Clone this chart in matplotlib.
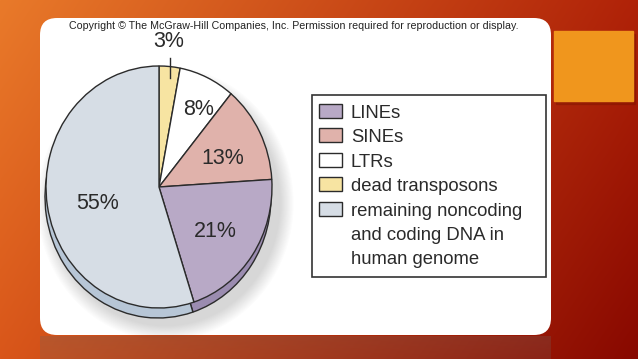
import numpy as np
import matplotlib.pyplot as plt
from matplotlib.patches import FancyBboxPatch, Rectangle

plt.rcParams['font.family'] = ['Liberation Sans', 'DejaVu Sans']

# Data (legend order)
categories = ['LINEs', 'SINEs', 'LTRs', 'dead transposons',
              'remaining noncoding\nand coding DNA in\nhuman genome']
shares = [21, 13, 8, 3, 55]
labels = ['21%', '13%', '8%', '3%', '55%']
colors = ['#b8a9c6', '#e0b2ab', '#ffffff', '#f7e4a2', '#d6dde5']
side_colors = ['#9b8cb0', '#c89a94', '#e6e6e6', '#e0cc88', '#b7c6d6']

# order the wedges appear clockwise from 12 o'clock
pie_order = [3, 2, 1, 0, 4]
# label anchor (x centre, baseline) in pie units
label_xy = [(0.496, -0.413), (0.566, 0.190), (0.354, 0.595), (0.088, 1.157), (-0.542, -0.182)]

W, H = 638, 359
fig = plt.figure(figsize=(W / 100, H / 100), dpi=100)

# ---- background ----
bg = fig.add_axes([0, 0, 1, 1])
bg.axis('off')
tl, bl = np.array([233, 122, 42]), np.array([217, 86, 26])
tr, br = np.array([176, 34, 8]), np.array([136, 8, 0])
u = np.linspace(0, 1, W)[None, :, None]
v = np.linspace(0, 1, H)[:, None, None]
grad = (tl * (1 - u) * (1 - v) + tr * u * (1 - v) + bl * (1 - u) * v + br * u * v) / 255
bg.imshow(grad, extent=(0, W, H, 0), aspect='auto', zorder=0)

# reflection under the card
refl = np.zeros((40, 2, 4))
refl[..., :3] = [0.45, 0.38, 0.36]
refl[..., 3] = np.linspace(0.3, 0.18, 40)[:, None]
bg.imshow(refl, extent=(40, 551, 377, 336), aspect='auto', zorder=1)

# orange square
bg.add_patch(Rectangle((556, 34), 79, 70, color='#7a1400', alpha=0.35, zorder=1))
bg.add_patch(Rectangle((554, 31), 79, 70, color='#f0961d', zorder=2))

# white card
bg.add_patch(FancyBboxPatch((40, 18), 511, 317, boxstyle='round,pad=0,rounding_size=17',
                            fc='white', ec='none', zorder=2))

# soft shadow under the pie
cx, cy, rx, ry = 159, 187, 113, 121
thick = 10
gx, gy = np.meshgrid(np.arange(40, 300), np.arange(50, 340))
d = np.hypot((gx - cx - 6) / (rx + 4), (gy - cy - thick - 6) / (ry + 4))
sh = np.zeros(gx.shape + (4,))
sh[..., :3] = 0.3
sh[..., 3] = 0.22 * np.clip((1.1 - d) / 0.12, 0, 1)
bg.imshow(sh, extent=(40, 300, 340, 50), aspect='auto', zorder=2.5)

bg.set_xlim(0, W)
bg.set_ylim(H, 0)

bg.text(294, 26, 'Copyright \u00a9 The McGraw-Hill Companies, Inc. Permission required for reproduction or display.',
        fontsize=7.7, color='#222222', ha='center', va='center', zorder=3)


# ---- pie ----
def pie_axes(dx, dy):
    x0 = cx + dx - 1.25 * rx
    y0 = H - (cy + dy) - 1.25 * ry
    return fig.add_axes([x0 / W, y0 / H, 2.5 * rx / W, 2.5 * ry / H])


side = pie_axes(-1, thick)
side.pie([shares[i] for i in pie_order], colors=[side_colors[i] for i in pie_order],
         startangle=90, counterclock=False,
         wedgeprops=dict(edgecolor='#2b2b2b', linewidth=1.0))
side.set_aspect('auto')
side.set_xlim(-1.25, 1.25)
side.set_ylim(-1.25, 1.25)

top = pie_axes(0, 0)
wedges, _ = top.pie([shares[i] for i in pie_order], colors=[colors[i] for i in pie_order],
                    startangle=90, counterclock=False,
                    wedgeprops=dict(edgecolor='#2b2b2b', linewidth=1.0))
top.set_aspect('auto')
top.set_xlim(-1.25, 1.25)
top.set_ylim(-1.25, 1.25)

for w, i in zip(wedges, pie_order):
    x, y = label_xy[i]
    top.text(x, y, labels[i], fontsize=15.5, color='#2a2a2a', ha='center', va='baseline')
    if y > 1:
        top.plot([0.097, 0.097], [0.9, 1.07], color='#2b2b2b', lw=1.0)

# ---- legend ----
bg.add_patch(Rectangle((312, 95), 234, 182, fc='none', ec='#333333', lw=1.2, zorder=3))
line = 0
for k, cat in enumerate(categories):
    w = wedges[pie_order.index(k)]
    base = 118 + 24.4 * line
    bg.add_patch(Rectangle((319, base - 14), 23, 14, fc=w.get_facecolor(),
                           ec='#2b2b2b', lw=1.0, zorder=3))
    for t in cat.split('\n'):
        bg.text(351, 118 + 24.4 * line, t, fontsize=13.3, color='#2a2a2a',
                ha='left', va='baseline', zorder=3)
        line += 1

fig.savefig('out.png', dpi=100)
